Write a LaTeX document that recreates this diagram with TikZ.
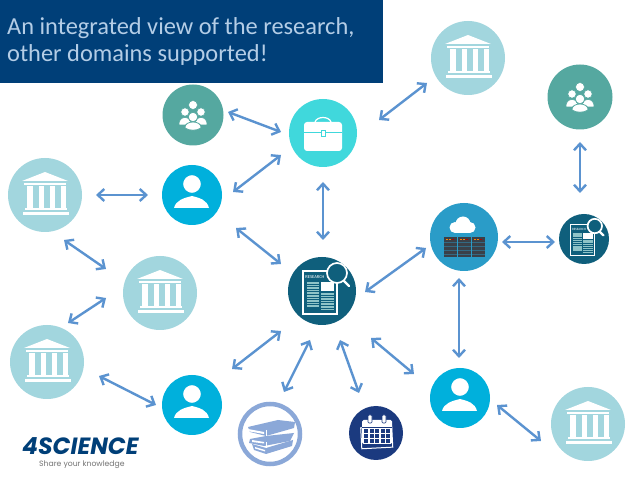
\documentclass[tikz,border=0pt]{standalone}
\usepackage{fontspec}
\setmainfont{Carlito}
\newfontfamily\logofont{Poppins}
\usetikzlibrary{arrows.meta,calc}
\definecolor{titlebg}{HTML}{003F78}
\definecolor{titletx}{HTML}{B4CDE6}
\definecolor{bankc}{HTML}{A2D6DE}
\definecolor{tealc}{HTML}{55A8A0}
\definecolor{briefc}{HTML}{40D8DC}
\definecolor{userc}{HTML}{00B0DC}
\definecolor{resc}{HTML}{0F5F7C}
\definecolor{cloudc}{HTML}{2A9CC8}
\definecolor{calc}{HTML}{1B3A7F}
\definecolor{ringc}{HTML}{8BA8D8}
\definecolor{arrowc}{HTML}{5B93D0}
\definecolor{serverc}{HTML}{3A4048}
\definecolor{stripec}{HTML}{8FC4C8}
\tikzset{
  x=1pt,y=-1pt,
  disc/.style={circle,inner sep=0pt,draw=none},
  link/.style={draw=arrowc,line width=2.4pt,{Straight Barb[length=6.5pt,width=12pt]}-{Straight Barb[length=6.5pt,width=12pt]}},
  bank/.pic={
    \fill[white] (-23,-14) -- (0,-23) -- (23,-14) -- cycle;
    \fill[white] (-21,-12) rectangle (21,-10);
    \foreach \a/\b in {-18/-12,-6/-1,5/10,16/21}{\fill[white] (\a,-9) rectangle (\b,13);}
    \fill[white] (-20,13) rectangle (22,15);
    \fill[white] (-22,17) rectangle (24,20);
  },
  person/.pic={
    \fill[white] (-18,13) .. controls (-16,5) and (-8,3) .. (0,1) .. controls (8,3) and (15,5) .. (17,13) -- cycle;
    \filldraw[white,draw=userc,line width=1.2pt] (0,-11) circle (9.5);
  },
  crowd/.pic={
    \foreach \p in {-8,8}{
      \filldraw[white,draw=tealc,line width=.6pt] (\p,-3) circle (4.2);
      \filldraw[white,draw=tealc,line width=.6pt] (\p-6,10) .. controls (\p-7,0) and (\p+7,0) .. (\p+6,10) -- cycle;
    }
    \filldraw[white,draw=tealc,line width=.6pt] (0,-10) circle (4.5);
    \filldraw[white,draw=tealc,line width=.8pt] (-8,13) .. controls (-9,5) and (9,5) .. (8,13) .. controls (4,16) and (-4,16) .. (-8,13) -- cycle;
    \filldraw[white,draw=tealc,line width=.8pt] (0,2) circle (4.8);
  },
  case/.pic={
    \draw[white,line width=1.2pt] (-8,-11) .. controls (-6,-17) and (6,-17) .. (8,-11);
    \fill[white,rounded corners=3pt] (-19,-11) rectangle (19,18);
    \fill[briefc] (-19,-0.5) rectangle (19,0.5);
    \draw[briefc,line width=.7pt,fill=white] (-2,-3) rectangle (2,3);
  },
  report/.pic={
    \draw[white,line width=1.1pt] (-19,-20) rectangle (15,23);
    \node[white,inner sep=0pt,font=\fontsize{4.5}{5}\selectfont] at (-7,-13.5) {RESEARCH};
    \foreach \r in {0,1,2,3,4,5,6,7,8,9}{\fill[stripec] (-15,-9+\r*2.6) rectangle (-3,-7.4+\r*2.6);}
    \foreach \r in {0,1,2,3,4,5,6}{\fill[stripec] (-1,2+\r*2.6) rectangle (12,3.6+\r*2.6);}
    \fill[white] (-1,-9) rectangle (12,0.5);
    \draw[white,line width=2.4pt,line cap=round] (22,-10) -- (27,-5);
    \filldraw[fill=resc,draw=white,line width=1.7pt] (15,-18) circle (10);
  },
  servers/.pic={
    \fill[white] (-9,-9.5) circle (5.5);
    \fill[white] (-1,-13) circle (7.5);
    \fill[white] (6,-9.5) circle (5.5);
    \fill[white] (-9,-8) rectangle (6,-4);
    \foreach \a in {-20,-6,8}{
      \fill[serverc] (\a,0) rectangle (\a+13,20);
      \foreach \h in {5,9,13,17}{\fill[cloudc!45!serverc] (\a,\h) rectangle (\a+13,\h+.7);}
      \fill[orange] (\a+2,1.6) rectangle (\a+4,2.8);
      \fill[orange] (\a+5,1.6) rectangle (\a+7,2.8);
      \fill[red!70!black] (\a+8,1.6) rectangle (\a+10,2.8);
    }
  },
  volumes/.pic={
    \fill[ringc] (-22,-7) -- (8,-14) -- (25,-12) -- (24,-6) -- (-4,2) -- (-20,-2) -- cycle;
    \fill[white] (-22,-5) -- (-6,-2) -- (-6,0) -- (-20,-2.5) -- cycle;
    \fill[ringc] (-20,5) -- (-4,2) -- (24,-1) -- (20,7) -- (-6,12) -- (-21,9) -- cycle;
    \fill[white] (-18,6) -- (-6,8) -- (-6,9.5) -- (-18,8) -- cycle;
    \fill[ringc] (-18,10) -- (-4,14) -- (23,6) -- (22,12) -- (-4,20) -- (-16,16) -- cycle;
    \fill[white] (-15,13) -- (-5,16) -- (-5,17.5) -- (-15,14.5) -- cycle;
    \draw[white,line width=.7pt] (-4,-4) -- (-4,2) (-4,8) -- (-4,14);
  },
  datebook/.pic={
    \draw[white,line width=1pt,rotate=3] (-15,-6) rectangle (16,15);
    \fill[white,rounded corners=1.5pt] (-14,-13) rectangle (16,11);
    \fill[calc] (-14,-6) rectangle (16,-5);
    \foreach \c in {0,1,2,3,4}{\foreach \r in {0,1,2}{
      \fill[calc] (-12+\c*5.6,-3.5+\r*4.8) rectangle (-8+\c*5.6,0+\r*4.8);}}
    \fill[white,draw=calc,line width=.6pt,rounded corners=1pt] (-8,-18) rectangle (-4,-10);
    \fill[white,draw=calc,line width=.6pt,rounded corners=1pt] (6,-18) rectangle (10,-10);
  }
}
\begin{document}
\begin{tikzpicture}
\useasboundingbox (0,0) rectangle (638,478);
\fill[white] (0,0) rectangle (638,478);
\fill[titlebg] (0,0.5) rectangle (383,83);
\node[anchor=west,text=titletx,inner sep=0pt,align=left,font=\fontsize{24.4}{27}\selectfont] (title) at (7,41.5) {An integrated view of the research,\\other domains supported!};

\foreach \n/\x/\y in {bankTop/468/58,bankLa/45/195,bankLb/160/293,bankLc/47/362,bankR/588/424}{
  \node[disc,fill=bankc,minimum size=74pt] (\n) at (\x,\y) {};
  \pic at (\n) {bank};
}
\foreach \n/\x/\y in {userA/192/195,userB/192/405,userC/460/398}{
  \node[disc,fill=userc,minimum size=60pt] (\n) at (\x,\y) {};
  \pic at (\n) {person};
}
\node[disc,fill=tealc,minimum size=61pt] (groupA) at (193,115) {};
\pic at (groupA) {crowd};
\node[disc,fill=tealc,minimum size=65pt] (groupB) at (580,97) {};
\pic at (groupB) {crowd};
\node[disc,fill=briefc,minimum size=68pt] (brief) at (323,133) {};
\pic at (brief) {case};
\node[disc,fill=resc,minimum size=68pt] (research) at (322,291) {};
\pic at (research) {report};
\node[disc,fill=resc,minimum size=50pt] (researchS) at (584,239) {};
\pic[scale=.72,transform shape] at (researchS) {report};
\node[disc,fill=cloudc,minimum size=68pt] (cloud) at (464,237) {};
\pic at (cloud) {servers};
\node[disc,fill=white,draw=ringc,line width=4.5pt,minimum size=60pt] (books) at (270,434) {};
\pic at (books) {volumes};
\node[disc,fill=calc,minimum size=54pt] (calendar) at (376,433) {};
\pic at (calendar) {datebook};

\draw[link] ($(groupA)+(35,-3)$) -- ($(brief)+(-42,-1)$);
\draw[link] ($(brief)+(-42,22)$) -- ($(userA)+(41,-3)$);
\draw[link] ($(brief)+(0,49)$) -- ($(research)+(1,-51)$);
\draw[link] ($(brief)+(56,-13)$) -- ($(bankTop)+(-41,25)$);
\draw[link] ($(bankLa)+(51,0)$) -- ($(userA)+(-44,0)$);
\draw[link] ($(userA)+(44,33)$) -- ($(research)+(-41,-27)$);
\draw[link] ($(bankLa)+(19,45)$) -- ($(bankLb)+(-54,-24)$);
\draw[link] ($(bankLb)+(-54,5)$) -- ($(bankLc)+(21,-39)$);
\draw[link] ($(bankLc)+(52,14)$) -- ($(userB)+(-36,0)$);
\draw[link] ($(userB)+(40,-36)$) -- ($(research)+(-41,40)$);
\draw[link] ($(books)+(14,-42)$) -- ($(research)+(-12,49)$);
\draw[link] ($(calendar)+(-17,-40)$) -- ($(research)+(18,49)$);
\draw[link] ($(userC)+(-46,-24)$) -- ($(research)+(49,47)$);
\draw[link] ($(cloud)+(-38,11)$) -- ($(research)+(43,1)$);
\draw[link] ($(cloud)+(-5,41)$) -- ($(userC)+(-1,-40)$);
\draw[link] ($(cloud)+(38,5)$) -- ($(researchS)+(-29,3)$);
\draw[link] ($(researchS)+(-4,-46)$) -- ($(groupB)+(0,45)$);
\draw[link] ($(userC)+(37,7)$) -- ($(bankR)+(-47,17)$);

\node[anchor=west,inner sep=0pt,text=titlebg,font=\logofont\bfseries\itshape\fontsize{23.5}{24}\selectfont] (logo) at (22,446) {4SCIENCE};
\node[anchor=west,inner sep=0pt,text=black!55,font=\logofont\fontsize{7.7}{8}\selectfont] (tagline) at (39,465) {Share your knowledge};
\end{tikzpicture}
\end{document}
